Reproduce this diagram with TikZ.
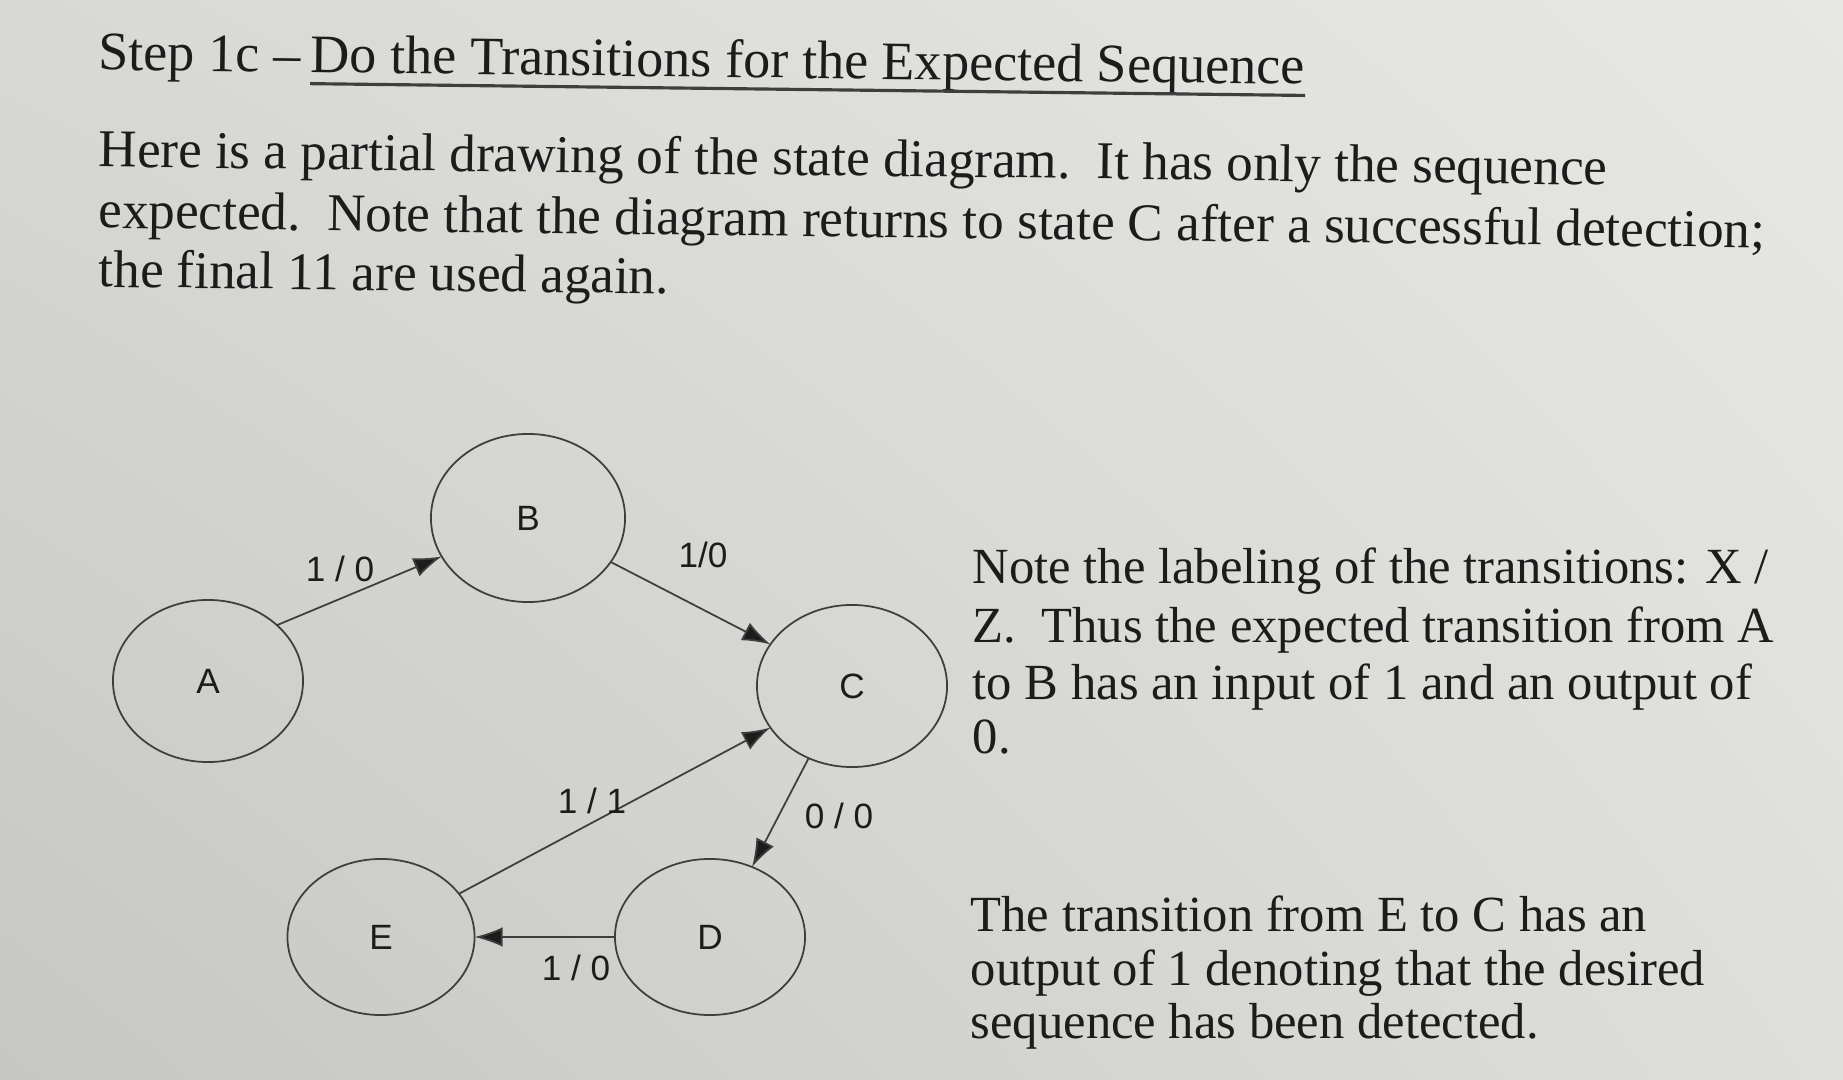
\documentclass[tikz,border=0pt]{standalone}
\usepackage{fontspec}
\setmainfont{Liberation Serif}
\setsansfont{Liberation Sans}
\usetikzlibrary{arrows.meta, positioning, shapes.geometric, shadings}
\newcommand{\letratitulo}{\fontsize{15.4}{18}\selectfont}
\newcommand{\letraparrafo}{\fontsize{15.1}{18}\selectfont}
\newcommand{\letranota}{\fontsize{14.4}{17}\selectfont}
\newcommand{\letraestado}{\sffamily\fontsize{10}{12}\selectfont}
\definecolor{tinta}{RGB}{28,28,28}
\definecolor{trazo}{RGB}{62,62,62}
\definecolor{fondoarriba}{RGB}{216,216,213}
\definecolor{fondoderecha}{RGB}{231,231,228}
\definecolor{fondoabajo}{RGB}{198,198,195}
\definecolor{fondoesquina}{RGB}{222,222,219}
\tikzset{>={Latex[length=8pt,width=5.6pt]}}

\begin{document}
\begin{tikzpicture}[x=0.01cm, y=-0.01cm,
		estado/.style={ellipse, draw=trazo, line width=0.5pt, minimum width=1.9cm, minimum height=1.62cm, inner sep=0pt, outer sep=0pt, font=\letraestado, text=tinta},
		etiqueta/.style={font=\letraestado, text=tinta, inner sep=0pt},
		flecha/.style={draw=trazo, line width=0.5pt, ->, >={Latex[length=8pt,width=5.6pt,fill=tinta]}},
		renglon/.style={anchor=base west, inner sep=0pt, text=tinta, font=\letraparrafo, rotate=-0.68},
		nota/.style={anchor=base west, inner sep=0pt, text=tinta, font=\letranota}]

			\useasboundingbox (0,0) rectangle (1843,1080);
			\shade[upper left=fondoarriba, upper right=fondoderecha, lower left=fondoabajo, lower right=fondoesquina] (0,0) rectangle (1843,1080);

			\node [renglon, font=\letratitulo] (paso) at (98,70) {Step 1c –};
			\node [renglon, font=\letratitulo] (titulo) at ([xshift=2.6pt]paso.base east) {Do the Transitions for the Expected Sequence};
			\draw [trazo, line width=0.9pt] ([yshift=-3.2pt]titulo.base west) -- ([yshift=-3.2pt]titulo.base east);

			\node [renglon] (linea1) at (98,167) {Here is a partial drawing of the state diagram.\ \ It has only the sequence};
			\node [renglon] (linea2) at (98,228) {expected.\ \ Note that the diagram returns to state C after a successful detection;};
			\node [renglon] (linea3) at (98,287) {the final 11 are used again.};

			\node [nota] (nota1) at (972,584) {Note the labeling of the transitions: X /};
			\node [nota] (nota2) at (972,643) {Z.\ \ Thus the expected transition from A};
			\node [nota] (nota3) at (972,699) {to B has an input of 1 and an output of};
			\node [nota] (nota4) at (972,754) {0.};
			\node [nota] (nota5) at (970,931) {The transition from E to C has an};
			\node [nota] (nota6) at (970,985) {output of 1 denoting that the desired};
			\node [nota] (nota7) at (970,1038) {sequence has been detected.};

			\node [estado] (A) at (208,681) {A};
			\node [estado, minimum width=1.94cm, minimum height=1.68cm] (B) at (528,518) {B};
			\node [estado] (C) at (852,686) {C};
			\node [estado, minimum height=1.56cm] (D) at (710,937) {D};
			\node [estado, minimum width=1.87cm, minimum height=1.56cm] (E) at (381,937) {E};

			\draw [flecha] (A.39) -- (B.204);
			\draw [flecha] (B.332) -- (C.153);
			\draw [flecha] (E.29) -- (C.207);
			\draw [flecha] (C.239) -- (D.59);
			\draw [flecha] (D.180) -- (E.0);

			\node [etiqueta] (eAB) at (340,569) {1 / 0};
			\node [etiqueta] (eBC) at (703,555) {1/0};
			\node [etiqueta] (eEC) at (592,801) {1 / 1};
			\node [etiqueta] (eCD) at (839,816) {0 / 0};
			\node [etiqueta] (eDE) at (576,968) {1 / 0};

\end{tikzpicture}
\end{document}
